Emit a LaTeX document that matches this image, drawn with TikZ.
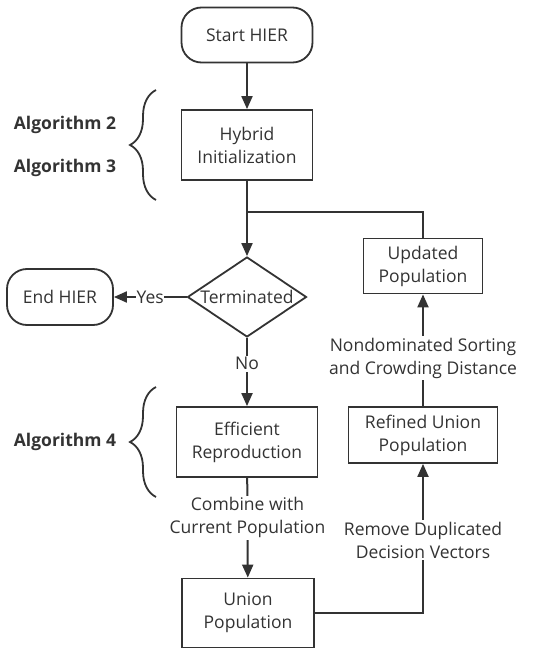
\documentclass[tikz,border=0pt]{standalone}
\usepackage{fontspec}
\setmainfont{Open Sans}
\usetikzlibrary{arrows.meta,shapes.geometric,decorations.pathreplacing}
\definecolor{ink}{HTML}{333333}

\begin{document}
\begin{tikzpicture}[x=1pt,y=-1pt,ink,
  font=\fontsize{17.5}{23}\selectfont,
  box/.style={rectangle,draw,line width=1.8pt,align=center,inner sep=2pt},
  term/.style={box,rounded corners=20pt},
  decide/.style={diamond,draw,line width=1.8pt,aspect=1.5,inner sep=0pt,minimum width=119pt,minimum height=80pt},
  link/.style={line width=2pt},
  arr/.style={link,-{Triangle[length=13pt,width=11pt]}},
  lbl/.style={fill=white,align=center,inner sep=1.5pt},
  alg/.style={font=\fontsize{17.5}{23}\bfseries},
  brace/.style={decorate,decoration={brace,amplitude=26pt,aspect=0.5},line width=1.8pt}]
\useasboundingbox (0,0) rectangle (550,655);

% flow nodes
\node [term,minimum width=131pt,minimum height=55pt] (start) at (247,35) {Start HIER};
\node [box,minimum width=131pt,minimum height=70pt] (init) at (247,145) {Hybrid\\Initialization};
\coordinate (join) at (247,212);
\node [decide] (check) at (247,297) {Terminated};
\node [term,minimum width=106pt,minimum height=56pt] (stop) at (60,297) {End HIER};
\node [box,minimum width=141pt,minimum height=70pt] (repro) at (247,442) {Efficient\\Reproduction};
\node [box,minimum width=132pt,minimum height=69pt] (union) at (248,613) {Union\\Population};
\node [box,minimum width=149pt,minimum height=56pt] (refined) at (423,435) {Refined Union\\Population};
\node [box,minimum width=119pt,minimum height=55pt] (updated) at (423,266) {Updated\\Population};

% connectors
\draw [arr] (start) -- (init);
\draw [link] (init) -- (join);
\draw [arr] (join) -- (check);
\draw [link] (updated.north) |- (join);
\draw [arr] (check.west) -- node[lbl,inner sep=0.5pt] {Yes} (stop.east);
\draw [arr] (check.south) -- node[lbl,pos=0.38] {No} (repro.north);
\draw [arr] (repro) -- node[lbl,pos=0.4] {Combine with\\Current Population} (union);
\draw [arr] (union.east) -| node[lbl,pos=0.745] {Remove Duplicated\\Decision Vectors} (refined.south);
\draw [arr] (refined) -- node[lbl,pos=0.43] {Nondominated Sorting\\and Crowding Distance} (updated);

% algorithm braces
\draw [brace] (156,200) -- (156,90);
\draw [brace] (156,497) -- (156,387);
\node [alg] (alg2) at (65,125) {Algorithm 2};
\node [alg] (alg3) at (65,168) {Algorithm 3};
\node [alg] (alg4) at (65,442) {Algorithm 4};
\end{tikzpicture}
\end{document}
